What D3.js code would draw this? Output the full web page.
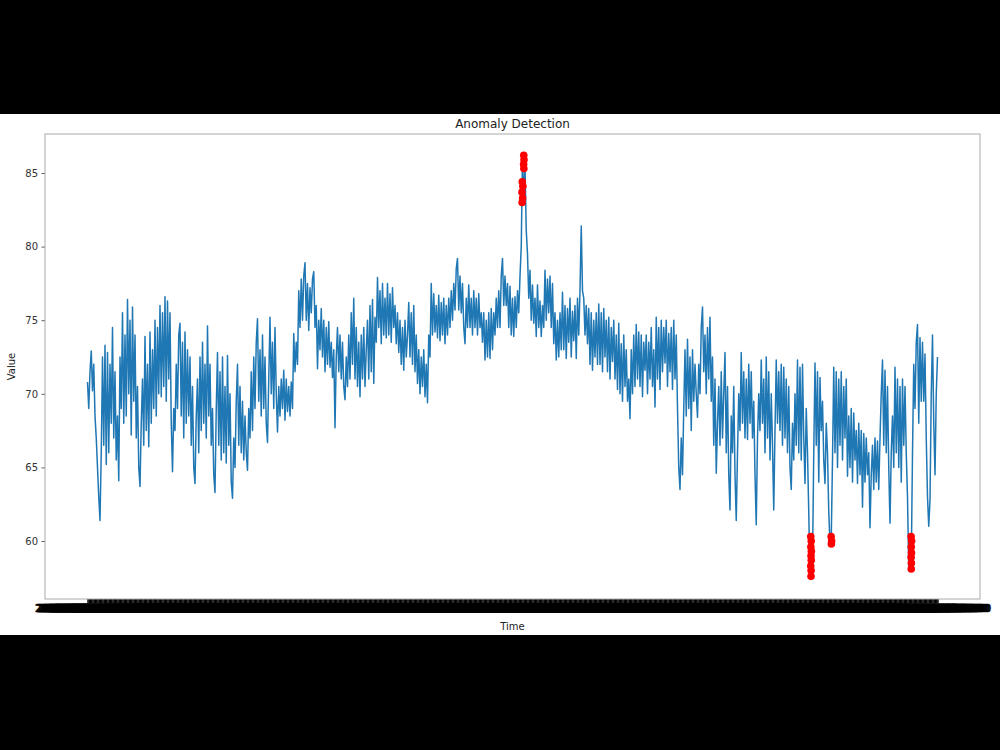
<!DOCTYPE html>
<html>
<head>
<meta charset="utf-8">
<script src="https://cdn.jsdelivr.net/npm/d3@7/dist/d3.min.js"></script>
<style>
  html, body { margin: 0; padding: 0; background: #000; }
  svg { display: block; }
  text { font-family: "DejaVu Sans", sans-serif; }
</style>
</head>
<body>
<svg id="chart" width="1000" height="750"></svg>
<script>
// ---- data ----
const values = [
  70.8, 69.0, 71.5, 72.9, 70.2, 72.0, 68.5, 67.0, 65.0, 63.0,
  61.4, 66.0, 72.5, 66.5, 73.3, 65.2, 72.8, 66.0, 72.0, 68.0,
  74.5, 67.0, 71.5, 65.5, 68.5, 64.1, 72.5, 69.0, 75.5, 68.0,
  74.0, 68.5, 76.4, 70.0, 75.0, 67.2, 75.9, 69.5, 74.0, 67.0,
  70.5, 65.0, 63.7, 68.0, 71.0, 66.5, 73.9, 67.5, 72.0, 66.4,
  74.2, 68.0, 73.0, 69.0, 75.0, 68.5, 74.5, 70.0, 76.0, 69.8,
  75.5, 70.5, 76.6, 69.5, 76.3, 71.0, 75.5, 68.0, 64.7, 69.0,
  67.5, 72.0, 69.0, 74.0, 74.8, 68.5, 73.5, 67.0, 74.2, 68.0,
  73.0, 68.5, 72.5, 66.5, 70.5, 65.0, 63.9, 68.5, 71.0, 66.0,
  72.5, 67.5, 73.5, 68.0, 72.0, 67.0, 74.6, 68.5, 72.0, 66.5,
  69.0, 64.5, 63.3, 69.0, 72.8, 66.5, 71.5, 65.5, 72.5, 66.0,
  70.5, 65.3, 72.6, 66.5, 70.0, 64.0, 62.9, 67.0, 65.0, 69.5,
  72.0, 66.5, 70.5, 66.0, 69.5, 65.5, 68.5, 66.0, 64.8, 69.0,
  67.0, 71.5, 67.5, 72.5, 69.0, 73.5, 75.1, 69.5, 73.0, 68.5,
  74.0, 69.0, 72.5, 68.0, 66.7, 71.0, 75.2, 70.0, 73.5, 69.0,
  74.5, 70.0, 67.4, 70.5, 68.5, 71.0, 69.0, 71.6, 68.2, 71.0,
  68.8, 70.5, 68.5, 70.8, 69.0, 74.1, 71.5, 73.5, 72.0, 77.0,
  74.5, 77.8, 75.0, 78.0, 78.9, 75.0, 77.5, 74.3, 77.2, 75.5,
  77.8, 78.3, 74.5, 76.0, 71.7, 75.0, 73.0, 75.8, 72.5, 75.0,
  71.5, 74.5, 72.0, 74.9, 71.8, 73.5, 71.1, 73.0, 67.7, 72.5,
  74.5, 71.5, 74.0, 71.0, 73.5, 70.5, 69.6, 72.5, 70.5, 74.0,
  71.0, 75.5, 72.0, 76.5, 71.0, 74.5, 70.5, 73.5, 69.8, 74.0,
  71.0, 74.5, 70.5, 73.0, 75.0, 71.0, 76.0, 71.5, 76.4, 70.7,
  75.2, 73.5, 77.9, 74.5, 77.0, 73.4, 77.5, 74.0, 76.5, 73.8,
  77.5, 74.0, 76.8, 73.5, 77.2, 74.5, 76.0, 73.4, 75.5, 72.8,
  75.0, 72.0, 74.5, 71.6, 75.0, 72.5, 74.0, 76.2, 72.5, 75.5,
  72.0, 76.0, 71.5, 74.0, 70.7, 73.0, 70.0, 72.5, 70.5, 73.0,
  69.8, 72.0, 69.4, 74.0, 72.5, 77.5, 74.0, 76.8, 74.2, 76.0,
  73.8, 76.7, 73.6, 76.2, 74.0, 76.5, 73.4, 76.0, 74.0, 76.5,
  74.5, 77.0, 75.0, 77.5, 75.7, 78.5, 79.2, 75.7, 78.0, 75.5,
  77.5, 74.5, 73.4, 76.5, 74.5, 77.4, 74.5, 76.5, 74.0, 77.0,
  74.5, 76.5, 74.0, 76.8, 74.5, 75.5, 73.5, 75.5, 72.3, 75.0,
  72.5, 75.5, 72.4, 75.8, 73.0, 75.5, 74.0, 76.5, 74.5, 77.0,
  74.5, 78.0, 79.2, 76.0, 78.0, 76.0, 77.5, 74.5, 77.3, 74.0,
  76.5, 73.9, 76.6, 74.5, 77.0, 75.5, 78.0, 80.0, 86.2, 83.0,
  85.5, 81.1, 79.5, 76.5, 78.4, 75.0, 77.4, 74.8, 76.5, 73.9,
  77.4, 74.5, 76.3, 73.9, 76.0, 74.5, 78.4, 75.0, 77.8, 75.5,
  78.0, 74.5, 77.5, 73.4, 75.5, 72.3, 75.0, 72.5, 75.5, 73.0,
  76.9, 73.0, 76.0, 72.4, 75.8, 73.5, 76.5, 72.5, 75.6, 73.6,
  76.0, 72.4, 76.5, 74.0, 77.0, 81.4, 77.0, 76.5, 74.0, 76.0,
  73.4, 75.8, 72.0, 75.5, 71.6, 75.0, 72.5, 75.5, 72.0, 76.1,
  72.0, 75.5, 71.5, 75.8, 72.5, 75.0, 71.5, 75.2, 71.0, 74.5,
  72.2, 75.0, 71.0, 74.0, 70.3, 74.8, 70.0, 73.4, 69.5, 74.0,
  70.5, 73.0, 69.5, 71.0, 68.3, 73.0, 70.0, 74.0, 70.5, 74.7,
  71.0, 74.2, 70.5, 74.0, 69.8, 73.5, 71.6, 74.0, 70.0, 73.5,
  71.0, 74.5, 70.5, 73.0, 69.1, 75.2, 71.0, 74.5, 70.3, 75.0,
  71.5, 74.5, 72.1, 75.0, 70.5, 74.1, 71.5, 74.5, 70.3, 75.0,
  71.0, 74.0, 69.0, 65.0, 63.5, 67.0, 64.5, 69.0, 73.0, 68.5,
  73.7, 69.0, 72.5, 67.5, 73.0, 69.5, 72.0, 70.0, 68.4, 72.0,
  70.0, 74.5, 75.9, 71.5, 74.0, 70.0, 74.5, 71.0, 75.2, 69.5,
  72.5, 66.5, 71.0, 64.6, 68.0, 70.5, 66.5, 71.5, 67.0, 70.0,
  72.8, 66.0, 70.5, 64.5, 62.1, 68.5, 66.0, 70.5, 64.5, 61.4,
  66.0, 70.0, 67.5, 72.8, 68.0, 71.5, 67.0, 71.0, 66.9, 72.0,
  68.0, 71.5, 67.0, 69.5, 64.5, 61.1, 67.0, 70.0, 67.5, 72.3,
  68.0, 71.0, 66.0, 72.5, 67.0, 71.5, 65.5, 70.0, 66.5, 62.1,
  67.5, 72.3, 68.0, 71.5, 67.5, 72.0, 66.5, 71.8, 67.0, 71.0,
  66.0, 70.5, 65.0, 63.5, 68.0, 65.5, 70.0, 66.5, 72.3, 66.0,
  71.8, 65.5, 72.0, 67.0, 63.9, 69.0, 66.0, 62.0, 57.4, 60.3,
  58.5, 66.0, 72.1, 66.5, 71.5, 64.0, 71.1, 67.5, 69.5, 65.5,
  63.9, 68.0, 66.0, 62.0, 59.8, 60.2, 65.5, 71.8, 66.0, 71.5,
  65.0, 71.0, 66.5, 71.5, 65.5, 70.5, 67.0, 71.0, 64.4, 68.5,
  65.0, 69.0, 64.0, 68.7, 65.5, 67.5, 63.9, 68.0, 64.5, 67.5,
  62.3, 67.3, 64.0, 67.0, 64.5, 66.0, 60.9, 64.5, 66.5, 63.5,
  67.0, 64.0, 66.8, 63.5, 67.0, 70.0, 72.3, 66.5, 71.6, 66.0,
  70.5, 65.0, 61.2, 66.0, 68.5, 65.0, 71.8, 66.0, 71.0, 65.0,
  70.5, 64.0, 71.0, 66.5, 70.5, 66.0, 63.0, 58.0, 60.2, 58.5,
  66.0, 72.0, 69.0, 73.5, 74.7, 68.0, 73.8, 69.5, 73.5, 69.5,
  72.7, 67.0, 63.0, 61.0, 62.8, 70.0, 74.0, 68.0, 64.5, 70.0,
  72.5
];

// anomalies (position in the series, value)
const anomalyIndex = [
  349.0, 349.2, 348.9, 349.1, 347.8, 348.3, 347.6, 348.1, 347.7,
  578.6, 579.0, 578.7, 579.1, 578.8, 579.0, 578.6, 578.9, 578.8,
  594.9, 595.3, 595.1,
  658.9, 659.3, 659.0, 659.2, 658.9, 659.1, 659.0
];
const anomalyValue = [
  86.2, 85.9, 85.6, 85.3, 84.4, 84.1, 83.7, 83.3, 83.0,
  60.3, 60.0, 59.6, 59.3, 59.0, 58.7, 58.3, 58.0, 57.6,
  60.3, 60.0, 59.8,
  60.3, 60.0, 59.6, 59.2, 58.9, 58.5, 58.1
];

const yTicks = [60, 65, 70, 75, 80, 85];
const startTime = "2023-01-01 00:00:00";
const titleText = "Anomaly Detection";
const xLabelText = "Time";
const yLabelText = "Value";

// tick labels: one timestamp per observation (hourly)
const parse = d3.timeParse("%Y-%m-%d %H:%M:%S");
const fmt = d3.timeFormat("%Y-%m-%d %H:%M:%S");
const t0 = parse(startTime);
const xTickLabels = values.map((_, i) => fmt(d3.timeHour.offset(t0, i)));

// ---- drawing ----
const svg = d3.select("#chart");
svg.append("rect").attr("x", 0).attr("y", 0).attr("width", 1000).attr("height", 750).attr("fill", "#000");
svg.append("rect").attr("x", 0).attr("y", 114).attr("width", 1000).attr("height", 521).attr("fill", "#fff");

const pLeft = 45, pRight = 980, pTop = 134, pBottom = 599;
const n = values.length - 1;
const x = d3.scaleLinear().domain([-0.05 * n, n * 1.05]).range([pLeft, pRight]);
const yMin = 56.06, yMax = 87.65;
const y = d3.scaleLinear().domain([yMin, yMax]).range([pBottom, pTop]);

// x axis: a tick and label for every observation
const xAxis = d3.axisBottom(x)
  .tickValues(values.map((_, i) => i))
  .tickFormat(i => xTickLabels[i])
  .tickSize(4)
  .tickPadding(2);
const gx = svg.append("g").attr("transform", `translate(0,${pBottom})`).call(xAxis);
gx.select(".domain").remove();
gx.selectAll("line").attr("stroke", "#000").attr("stroke-width", 1.4);
gx.selectAll("text").attr("font-size", 10).attr("fill", "#000")
  .attr("stroke", "#000").attr("stroke-width", 0.6);

// y axis
const yAxis = d3.axisLeft(y).tickValues(yTicks).tickFormat(d3.format("d")).tickSize(3.5).tickPadding(3.5);
const gy = svg.append("g").attr("transform", `translate(${pLeft},0)`).call(yAxis);
gy.select(".domain").remove();
gy.selectAll("line").attr("stroke", "#333").attr("stroke-width", 0.8);
gy.selectAll("text").attr("font-size", 10).attr("fill", "#333");

// line
const line = d3.line().x((d, i) => x(i)).y(d => y(d));
svg.append("path")
  .datum(values)
  .attr("d", line)
  .attr("fill", "none")
  .attr("stroke", "#1f77b4")
  .attr("stroke-width", 1.5)
  .attr("stroke-linejoin", "round");

// anomalies
svg.append("g").selectAll("circle")
  .data(anomalyValue.map((v, k) => [anomalyIndex[k], v]))
  .join("circle")
  .attr("cx", d => x(d[0]))
  .attr("cy", d => y(d[1]))
  .attr("r", 3.8)
  .attr("fill", "#ff0000");

// frame
svg.append("rect")
  .attr("x", pLeft).attr("y", pTop)
  .attr("width", pRight - pLeft).attr("height", pBottom - pTop)
  .attr("fill", "none").attr("stroke", "#aaa").attr("stroke-width", 1);

// texts
svg.append("text").attr("x", (pLeft + pRight) / 2).attr("y", 128)
  .attr("text-anchor", "middle").attr("font-size", 12).attr("fill", "#222").text(titleText);
svg.append("text").attr("x", (pLeft + pRight) / 2).attr("y", 630)
  .attr("text-anchor", "middle").attr("font-size", 10).attr("fill", "#222").text(xLabelText);
svg.append("text")
  .attr("transform", `translate(15,${(pTop + pBottom) / 2}) rotate(-90)`)
  .attr("text-anchor", "middle").attr("font-size", 10).attr("fill", "#222").text(yLabelText);
</script>
</body>
</html>
